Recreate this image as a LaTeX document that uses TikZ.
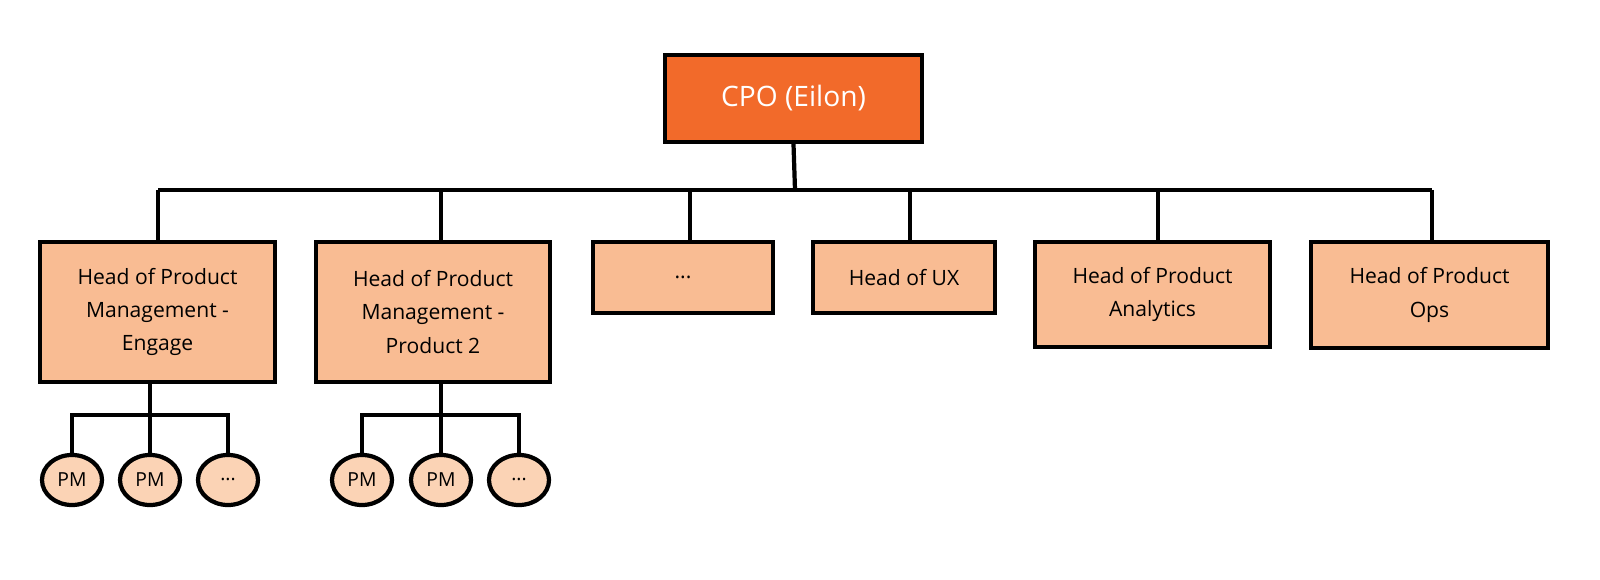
\documentclass[tikz,border=0pt]{standalone}
\usepackage{fontspec}
\usetikzlibrary{shapes.geometric}
\setmainfont{Open Sans}
\begin{document}
\begin{tikzpicture}[x=0.01cm,y=-0.01cm,
  ln/.style={line width=1.2pt,black},
  box/.style={draw,line width=1.2pt,fill=boxc,inner sep=0pt,align=center,font=\fontsize{6}{9.5}\selectfont},
  pm/.style={draw,line width=1.2pt,fill=pmc,ellipse,minimum width=0.6cm,minimum height=0.5cm,inner sep=0pt,font=\fontsize{5.5}{7}\selectfont}]
\definecolor{topc}{HTML}{F26A2A}
\definecolor{boxc}{HTML}{F9BC93}
\definecolor{pmc}{HTML}{FBD3B5}
\useasboundingbox (0,0) rectangle (1600,580);
\node[box,fill=topc,text=white,font=\fontsize{8}{10}\selectfont,minimum width=2.57cm,minimum height=0.87cm] (cpo) at (793.5,98.5) {CPO (Eilon)};
\node[box,minimum width=2.35cm,minimum height=1.40cm] (a) at (157.5,312) {Head of Product\\Management -\\Engage};
\node[box,minimum width=2.34cm,minimum height=1.40cm] (b) at (433,312) {Head of Product\\Management -\\Product 2};
\node[box,minimum width=1.80cm,minimum height=0.71cm] (c) at (683,277.5) {...};
\node[box,minimum width=1.82cm,minimum height=0.71cm] (d) at (904,277.5) {Head of UX};
\node[box,minimum width=2.35cm,minimum height=1.05cm] (e) at (1152.5,294.5) {Head of Product\\Analytics};
\node[box,minimum width=2.37cm,minimum height=1.06cm] (f) at (1429.5,295) {Head of Product\\Ops};
\coordinate (bl) at (158,190); \coordinate (br) at (1432,190);
\draw[ln] (cpo.south) -- (795,190);
\draw[ln] (bl) -- (br);
\foreach \n/\x in {a/158,b/441,c/690,d/910,e/1158,f/1432} \draw[ln] (\x,190) -- (\x,242);
\node[pm] (p1) at (72,480) {PM};
\node[pm] (p2) at (150,480) {PM};
\node[pm] (p3) at (228,480) {...};
\node[pm] (q1) at (362,480) {PM};
\node[pm] (q2) at (441,480) {PM};
\node[pm] (q3) at (519,480) {...};
\draw[ln] (150,382) -- (150,415);
\draw[ln] (p1.north) |- (150,415) -| (p3.north);
\draw[ln] (150,415) -- (p2.north);
\draw[ln] (441,382) -- (441,415);
\draw[ln] (q1.north) |- (441,415) -| (q3.north);
\draw[ln] (441,415) -- (q2.north);
\end{tikzpicture}
\end{document}
